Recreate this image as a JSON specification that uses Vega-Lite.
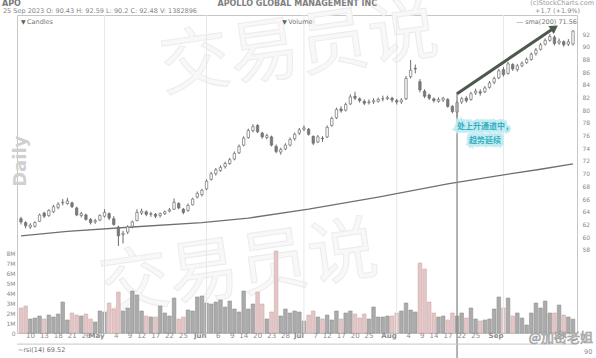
{
"$schema": "https://vega.github.io/schema/vega-lite/v6.json",
"width": 560, "height": 318,
"autosize": {"type": "none"},
"padding": {"left": 17, "top": 15, "right": 19, "bottom": 25},
"background": "white",
"config": {"font": "DejaVu Sans", "view": {"stroke": "#c6c6c6"}, "axis": {"labelOverlap": false, "labelBound": false, "labelFlush": false}},
"datasets": {
"bars": [
{"d":"2023-04-04","o":62.9,"h":63.2,"l":62.0,"c":62.4,"v":2500000},
{"d":"2023-04-05","o":62.3,"h":62.5,"l":61.4,"c":61.8,"v":2700000},
{"d":"2023-04-06","o":61.6,"h":62.2,"l":61.3,"c":61.9,"v":1400000},
{"d":"2023-04-10","o":61.7,"h":62.5,"l":61.5,"c":62.3,"v":1500000},
{"d":"2023-04-11","o":62.5,"h":63.7,"l":62.4,"c":63.5,"v":1700000},
{"d":"2023-04-12","o":63.8,"h":64.0,"l":63.0,"c":63.3,"v":1400000},
{"d":"2023-04-13","o":63.4,"h":64.4,"l":63.2,"c":64.2,"v":1800000},
{"d":"2023-04-14","o":64.0,"h":65.1,"l":63.8,"c":64.8,"v":1600000},
{"d":"2023-04-17","o":64.7,"h":65.5,"l":64.4,"c":65.2,"v":1900000},
{"d":"2023-04-18","o":65.4,"h":66.0,"l":65.0,"c":65.5,"v":3100000},
{"d":"2023-04-19","o":65.3,"h":66.2,"l":65.1,"c":65.7,"v":1300000},
{"d":"2023-04-20","o":65.4,"h":65.6,"l":64.6,"c":64.8,"v":2000000},
{"d":"2023-04-21","o":64.6,"h":64.8,"l":63.3,"c":63.5,"v":1800000},
{"d":"2023-04-24","o":63.4,"h":64.0,"l":63.1,"c":63.7,"v":1700000},
{"d":"2023-04-25","o":63.5,"h":63.7,"l":62.6,"c":62.8,"v":1900000},
{"d":"2023-04-26","o":62.8,"h":63.0,"l":62.0,"c":62.3,"v":1400000},
{"d":"2023-04-27","o":62.4,"h":62.9,"l":62.1,"c":62.6,"v":1100000},
{"d":"2023-04-28","o":62.7,"h":63.6,"l":62.5,"c":63.4,"v":2200000},
{"d":"2023-05-01","o":63.3,"h":64.4,"l":63.1,"c":63.9,"v":2100000},
{"d":"2023-05-02","o":63.7,"h":63.9,"l":62.7,"c":63.0,"v":3000000},
{"d":"2023-05-03","o":62.9,"h":63.3,"l":61.8,"c":62.0,"v":2400000},
{"d":"2023-05-04","o":61.6,"h":61.8,"l":58.6,"c":60.2,"v":4100000},
{"d":"2023-05-05","o":60.4,"h":61.0,"l":59.0,"c":60.6,"v":2200000},
{"d":"2023-05-08","o":60.8,"h":61.9,"l":60.5,"c":61.6,"v":2500000},
{"d":"2023-05-09","o":61.7,"h":62.6,"l":61.4,"c":62.4,"v":4200000},
{"d":"2023-05-10","o":62.6,"h":64.4,"l":62.5,"c":63.9,"v":3800000},
{"d":"2023-05-11","o":63.8,"h":64.5,"l":63.5,"c":64.1,"v":2200000},
{"d":"2023-05-12","o":64.0,"h":64.2,"l":63.3,"c":63.6,"v":1700000},
{"d":"2023-05-15","o":63.6,"h":64.0,"l":63.2,"c":63.7,"v":1600000},
{"d":"2023-05-16","o":63.6,"h":63.8,"l":63.0,"c":63.3,"v":1600000},
{"d":"2023-05-17","o":63.4,"h":63.9,"l":63.1,"c":63.7,"v":2700000},
{"d":"2023-05-18","o":63.7,"h":64.2,"l":63.5,"c":64.0,"v":2000000},
{"d":"2023-05-19","o":64.1,"h":64.6,"l":63.9,"c":64.3,"v":1700000},
{"d":"2023-05-22","o":64.4,"h":66.1,"l":64.3,"c":65.5,"v":3500000},
{"d":"2023-05-23","o":65.3,"h":65.5,"l":64.4,"c":64.6,"v":1400000},
{"d":"2023-05-24","o":64.4,"h":64.6,"l":63.6,"c":63.9,"v":1600000},
{"d":"2023-05-25","o":64.2,"h":65.3,"l":64.0,"c":65.0,"v":2300000},
{"d":"2023-05-26","o":65.1,"h":66.2,"l":65.0,"c":66.0,"v":2200000},
{"d":"2023-05-30","o":66.3,"h":67.2,"l":66.1,"c":66.9,"v":3600000},
{"d":"2023-05-31","o":66.7,"h":67.6,"l":66.4,"c":67.4,"v":3700000},
{"d":"2023-06-01","o":67.6,"h":69.1,"l":67.4,"c":68.8,"v":3000000},
{"d":"2023-06-02","o":69.1,"h":70.3,"l":68.9,"c":70.0,"v":2900000},
{"d":"2023-06-05","o":70.0,"h":70.9,"l":69.7,"c":70.6,"v":3100000},
{"d":"2023-06-06","o":70.5,"h":71.3,"l":70.3,"c":71.0,"v":3300000},
{"d":"2023-06-07","o":71.1,"h":71.9,"l":70.8,"c":71.6,"v":2600000},
{"d":"2023-06-08","o":71.6,"h":72.5,"l":71.4,"c":72.2,"v":3200000},
{"d":"2023-06-09","o":72.3,"h":73.5,"l":72.1,"c":73.2,"v":2400000},
{"d":"2023-06-12","o":73.3,"h":74.6,"l":73.1,"c":74.3,"v":2100000},
{"d":"2023-06-13","o":74.5,"h":75.9,"l":74.3,"c":75.6,"v":4200000},
{"d":"2023-06-14","o":75.7,"h":77.1,"l":75.5,"c":76.8,"v":2400000},
{"d":"2023-06-15","o":76.8,"h":77.8,"l":76.5,"c":77.4,"v":2900000},
{"d":"2023-06-16","o":77.6,"h":77.8,"l":76.4,"c":76.6,"v":4100000},
{"d":"2023-06-20","o":76.4,"h":76.6,"l":75.5,"c":75.8,"v":2900000},
{"d":"2023-06-21","o":75.7,"h":76.3,"l":75.4,"c":76.0,"v":1400000},
{"d":"2023-06-22","o":75.8,"h":76.0,"l":74.3,"c":74.5,"v":2100000},
{"d":"2023-06-23","o":74.3,"h":74.6,"l":73.2,"c":73.5,"v":8200000},
{"d":"2023-06-26","o":73.4,"h":74.1,"l":73.0,"c":73.8,"v":1700000},
{"d":"2023-06-27","o":73.9,"h":74.8,"l":73.7,"c":74.5,"v":2400000},
{"d":"2023-06-28","o":74.5,"h":75.7,"l":74.3,"c":75.4,"v":2000000},
{"d":"2023-06-29","o":75.5,"h":76.5,"l":75.2,"c":76.2,"v":2200000},
{"d":"2023-06-30","o":76.4,"h":77.2,"l":76.1,"c":76.9,"v":2100000},
{"d":"2023-07-03","o":77.0,"h":77.6,"l":76.7,"c":77.2,"v":1200000},
{"d":"2023-07-05","o":77.0,"h":77.2,"l":76.0,"c":76.2,"v":1800000},
{"d":"2023-07-06","o":75.9,"h":76.0,"l":74.5,"c":74.8,"v":2200000},
{"d":"2023-07-07","o":75.0,"h":76.1,"l":74.8,"c":75.8,"v":1600000},
{"d":"2023-07-10","o":75.6,"h":75.9,"l":75.0,"c":75.5,"v":1400000},
{"d":"2023-07-11","o":75.8,"h":77.6,"l":75.6,"c":77.3,"v":1800000},
{"d":"2023-07-12","o":77.6,"h":79.0,"l":77.4,"c":78.7,"v":1300000},
{"d":"2023-07-13","o":78.8,"h":80.4,"l":78.6,"c":80.1,"v":2200000},
{"d":"2023-07-14","o":80.2,"h":80.6,"l":79.6,"c":79.9,"v":1400000},
{"d":"2023-07-17","o":80.0,"h":81.2,"l":79.8,"c":80.9,"v":2000000},
{"d":"2023-07-18","o":81.0,"h":82.5,"l":80.8,"c":82.1,"v":2200000},
{"d":"2023-07-19","o":82.2,"h":82.9,"l":81.6,"c":81.9,"v":1900000},
{"d":"2023-07-20","o":81.8,"h":82.0,"l":81.2,"c":81.5,"v":1500000},
{"d":"2023-07-21","o":81.4,"h":81.7,"l":80.8,"c":81.1,"v":1900000},
{"d":"2023-07-24","o":81.2,"h":81.7,"l":80.9,"c":81.3,"v":1400000},
{"d":"2023-07-25","o":81.3,"h":81.9,"l":81.0,"c":81.5,"v":2600000},
{"d":"2023-07-26","o":81.4,"h":82.0,"l":81.2,"c":81.7,"v":1600000},
{"d":"2023-07-27","o":81.8,"h":82.3,"l":81.4,"c":81.8,"v":1600000},
{"d":"2023-07-28","o":81.8,"h":82.3,"l":81.6,"c":82.0,"v":1700000},
{"d":"2023-07-31","o":81.9,"h":82.1,"l":81.2,"c":81.6,"v":1700000},
{"d":"2023-08-01","o":81.5,"h":81.8,"l":80.9,"c":81.3,"v":2000000},
{"d":"2023-08-02","o":81.3,"h":81.9,"l":81.0,"c":81.6,"v":2200000},
{"d":"2023-08-03","o":81.8,"h":85.4,"l":81.6,"c":85.0,"v":3000000},
{"d":"2023-08-04","o":85.3,"h":87.9,"l":85.0,"c":86.3,"v":2300000},
{"d":"2023-08-07","o":86.6,"h":87.2,"l":85.8,"c":86.5,"v":2100000},
{"d":"2023-08-08","o":84.5,"h":84.9,"l":82.8,"c":83.2,"v":7000000},
{"d":"2023-08-09","o":83.0,"h":83.3,"l":81.9,"c":82.2,"v":6400000},
{"d":"2023-08-10","o":82.4,"h":82.6,"l":81.6,"c":81.9,"v":3100000},
{"d":"2023-08-11","o":81.8,"h":82.0,"l":81.2,"c":81.5,"v":2000000},
{"d":"2023-08-14","o":81.4,"h":82.0,"l":81.2,"c":81.7,"v":1600000},
{"d":"2023-08-15","o":81.6,"h":82.1,"l":81.3,"c":81.9,"v":1700000},
{"d":"2023-08-16","o":81.7,"h":81.9,"l":80.4,"c":80.6,"v":1300000},
{"d":"2023-08-17","o":80.6,"h":80.8,"l":79.5,"c":79.8,"v":2000000},
{"d":"2023-08-18","o":79.7,"h":81.5,"l":78.9,"c":81.2,"v":1700000},
{"d":"2023-08-21","o":81.3,"h":82.1,"l":81.0,"c":81.8,"v":2000000},
{"d":"2023-08-22","o":81.9,"h":82.2,"l":81.2,"c":81.5,"v":1500000},
{"d":"2023-08-23","o":81.7,"h":82.9,"l":81.5,"c":82.6,"v":2500000},
{"d":"2023-08-24","o":82.7,"h":83.4,"l":82.4,"c":83.0,"v":1400000},
{"d":"2023-08-25","o":82.9,"h":83.3,"l":82.3,"c":82.7,"v":1200000},
{"d":"2023-08-28","o":82.9,"h":83.8,"l":82.7,"c":83.5,"v":1300000},
{"d":"2023-08-29","o":83.6,"h":84.6,"l":83.4,"c":84.3,"v":1400000},
{"d":"2023-08-30","o":84.4,"h":85.3,"l":84.1,"c":85.0,"v":2400000},
{"d":"2023-08-31","o":85.1,"h":86.5,"l":84.9,"c":86.2,"v":3600000},
{"d":"2023-09-01","o":86.4,"h":86.8,"l":85.3,"c":85.6,"v":2500000},
{"d":"2023-09-05","o":85.8,"h":87.6,"l":85.6,"c":87.3,"v":3500000},
{"d":"2023-09-06","o":87.2,"h":87.4,"l":86.2,"c":86.5,"v":1700000},
{"d":"2023-09-07","o":86.4,"h":87.3,"l":86.1,"c":87.0,"v":2000000},
{"d":"2023-09-08","o":87.0,"h":87.7,"l":86.8,"c":87.4,"v":1500000},
{"d":"2023-09-11","o":87.5,"h":88.3,"l":87.3,"c":88.0,"v":800000},
{"d":"2023-09-12","o":88.0,"h":89.1,"l":87.8,"c":88.8,"v":2000000},
{"d":"2023-09-13","o":88.9,"h":89.8,"l":88.6,"c":89.5,"v":3000000},
{"d":"2023-09-14","o":89.6,"h":90.6,"l":89.4,"c":90.3,"v":2500000},
{"d":"2023-09-15","o":90.4,"h":91.3,"l":90.2,"c":91.0,"v":3200000},
{"d":"2023-09-18","o":91.0,"h":92.0,"l":90.8,"c":91.6,"v":2000000},
{"d":"2023-09-19","o":91.5,"h":91.8,"l":90.2,"c":90.5,"v":2000000},
{"d":"2023-09-20","o":90.6,"h":91.3,"l":90.3,"c":90.9,"v":2800000},
{"d":"2023-09-21","o":90.8,"h":91.0,"l":90.0,"c":90.3,"v":1800000},
{"d":"2023-09-22","o":90.4,"h":91.2,"l":90.1,"c":90.78,"v":1600000},
{"d":"2023-09-25","o":90.43,"h":92.59,"l":90.2,"c":92.48,"v":1382896}
],
"sma": [
{"d":"2023-04-04","s":60.2},{"d":"2023-04-19","s":60.9},{"d":"2023-05-09","s":61.6},{"d":"2023-05-31","s":62.3},{"d":"2023-06-14","s":63.0},{"d":"2023-07-05","s":64.4},{"d":"2023-07-26","s":66.3},{"d":"2023-08-16","s":68.4},{"d":"2023-08-31","s":69.7},{"d":"2023-09-14","s":70.7},{"d":"2023-09-25","s":71.56}
],
"months": [{"d":"2023-05-01"},{"d":"2023-06-01"},{"d":"2023-07-03"},{"d":"2023-08-01"},{"d":"2023-09-01"}],
"arrow": [{"d":"2023-08-18","p":82.6},{"d":"2023-09-19","p":93.0}]
},
"layer": [
{
"layer": [
{
"data": {"values": [{"d":"2023-06-30","t":"交易员说"},{"d":"2023-06-12","t":"交易员说"}]},
"transform": [{"calculate": "datum.d == '2023-06-30' ? 28300000 : 6300000", "as": "wy"}],
"mark": {"type": "text", "fontSize": 70, "font": "Noto Sans CJK SC", "fill": "#f8f8f8", "stroke": "#ececec", "strokeWidth": 1, "angle": 352, "align": "center", "baseline": "middle"},
"encoding": {
"x": {"field": "d", "type": "ordinal", "title": null},
"y": {"field": "wy", "type": "quantitative", "title": null},
"text": {"field": "t"}
}
},
{
"data": {"name": "bars"},
"transform": [{"window": [{"op": "lag", "field": "c", "as": "pc"}], "sort": [{"field": "d", "order": "ascending"}]}],
"mark": {"type": "bar", "size": 3.6, "strokeWidth": 0.6},
"encoding": {
"x": {"field": "d", "type": "ordinal", "title": null,
"scale": {"type": "band", "paddingInner": 0, "paddingOuter": 0.36},
"axis": {"values": ["2023-04-10","2023-04-13","2023-04-18","2023-04-21","2023-04-26","2023-05-01","2023-05-04","2023-05-09","2023-05-12","2023-05-17","2023-05-22","2023-05-25","2023-06-01","2023-06-06","2023-06-09","2023-06-14","2023-06-20","2023-06-23","2023-06-28","2023-07-03","2023-07-07","2023-07-12","2023-07-17","2023-07-20","2023-07-25","2023-08-01","2023-08-04","2023-08-09","2023-08-14","2023-08-17","2023-08-22","2023-08-25","2023-09-01"],
"labelExpr": "datum.value == '2023-05-01' ? 'May' : datum.value == '2023-06-01' ? 'Jun' : datum.value == '2023-07-03' ? 'Jul' : datum.value == '2023-08-01' ? 'Aug' : datum.value == '2023-09-01' ? 'Sep' : '' + toNumber(substring(datum.value, 8, 10))",
"labelFontWeight": {"condition": {"test": "indexof(['2023-05-01','2023-06-01','2023-07-03','2023-08-01','2023-09-01'], datum.value) >= 0", "value": "bold"}, "value": "normal"},
"labelAngle": 0, "labelFontSize": 7, "labelColor": "#8a8a8a", "labelPadding": 2, "ticks": false, "domain": false, "grid": false, "labelOverlap": false, "title": null}},
"y": {"field": "v", "type": "quantitative", "title": null,
"scale": {"domain": [0, 31800000], "nice": false, "zero": true},
"axis": {"orient": "left", "values": [0,1000000,2000000,3000000,4000000,5000000,6000000,7000000,8000000], "tickCount": 100,
"labelExpr": "datum.value == 0 ? '0' : (datum.value/1000000) + 'M'",
"labelFontSize": 6, "labelColor": "#8a8a8a", "labelPadding": 2, "labelOverlap": false, "ticks": false, "domain": false, "grid": false, "title": null}},
"fill": {"condition": {"test": "datum.pc == null || datum.c < datum.pc", "value": "#e4c6c6"}, "value": "#ababab"},
"stroke": {"condition": {"test": "datum.pc == null || datum.c < datum.pc", "value": "#cfa9a9"}, "value": "#929292"}
}
}
]
},
{
"layer": [
{
"data": {"name": "months"},
"mark": {"type": "rule", "stroke": "#e8e8e8", "strokeWidth": 1},
"encoding": {"x": {"field": "d", "type": "ordinal", "title": null}}
},
{
"data": {"values": [{"d": "2023-04-04"}]},
"mark": {"type": "text", "fontSize": 18, "fontWeight": "bold", "align": "center", "baseline": "middle", "angle": 270, "dx": -13, "fill": "#d0d0d0"},
"encoding": {"x": {"field": "d", "type": "ordinal", "title": null}, "y": {"datum": 74.0}, "text": {"value": "Daily"}}
},
{
"data": {"name": "sma"},
"mark": {"type": "line", "stroke": "#707070", "strokeWidth": 1.3},
"encoding": {
"x": {"field": "d", "type": "ordinal", "title": null},
"y": {"field": "s", "type": "quantitative", "title": null}
}
},
{
"data": {"name": "bars"},
"mark": {"type": "rule", "stroke": "#6e6e6e", "strokeWidth": 1},
"encoding": {
"x": {"field": "d", "type": "ordinal", "title": null},
"y": {"field": "l", "type": "quantitative", "title": null,
"scale": {"domain": [44.9, 95], "nice": false, "zero": false},
"axis": {"orient": "right", "values": [58,60,62,64,66,68,70,72,74,76,78,80,82,84,86,88,90,92], "tickCount": 100, "format": "d", "labelFontSize": 6, "labelColor": "#8a8a8a", "labelPadding": 5, "labelOverlap": false, "ticks": false, "domain": false, "grid": false, "title": null}},
"y2": {"field": "h"}
}
},
{
"data": {"name": "bars"},
"mark": {"type": "bar", "size": 2.4, "strokeWidth": 0.7, "stroke": "#6e6e6e"},
"encoding": {
"x": {"field": "d", "type": "ordinal", "title": null},
"y": {"field": "o", "type": "quantitative", "title": null},
"y2": {"field": "c"},
"fill": {"condition": {"test": "datum.c >= datum.o", "value": "#ffffff"}, "value": "#7a7a7a"}
}
},
{
"data": {"values": [{"d": "2023-08-18"}]},
"mark": {"type": "rule", "stroke": "#8a8a8a", "strokeWidth": 1.3},
"encoding": {
"x": {"field": "d", "type": "ordinal", "title": null},
"y": {"datum": 82.8},
"y2": {"datum": 40.5}
}
},
{
"data": {"name": "arrow"},
"mark": {"type": "line", "stroke": "#4e594e", "strokeWidth": 3},
"encoding": {
"x": {"field": "d", "type": "ordinal", "title": null},
"y": {"field": "p", "type": "quantitative", "title": null}
}
},
{
"data": {"name": "arrow"},
"transform": [{"filter": "datum.d == '2023-09-19'"}],
"mark": {"type": "point", "shape": "triangle-up", "size": 90, "angle": 56, "filled": true, "fill": "#4e594e", "opacity": 1},
"encoding": {
"x": {"field": "d", "type": "ordinal", "title": null},
"y": {"field": "p", "type": "quantitative", "title": null}
}
},
{
"data": {"values": [{"d": "2023-08-18"}]},
"mark": {"type": "text", "font": "Noto Sans CJK SC", "fontSize": 8, "fontWeight": "bold", "align": "center", "baseline": "top", "dx": 28, "lineHeight": 14, "fill": "#c2ecf3", "stroke": "#c2ecf3", "strokeWidth": 5},
"encoding": {
"x": {"field": "d", "type": "ordinal", "title": null},
"y": {"datum": 78.0},
"text": {"value": ["处上升通道中，", "趋势延续"]}
}
},
{
"data": {"values": [{"d": "2023-08-18"}]},
"mark": {"type": "text", "font": "Noto Sans CJK SC", "fontSize": 8, "fontWeight": "bold", "align": "center", "baseline": "top", "dx": 28, "lineHeight": 14, "fill": "#36afc0"},
"encoding": {
"x": {"field": "d", "type": "ordinal", "title": null},
"y": {"datum": 78.0},
"text": {"value": ["处上升通道中，", "趋势延续"]}
}
},
{
"data": {"values": [{"d": "2023-04-04"}]},
"mark": {"type": "text", "fontSize": 8, "fontWeight": "bold", "align": "left", "baseline": "middle", "dx": -19, "dy": -11.5, "fill": "#777"},
"encoding": {"x": {"field": "d", "type": "ordinal", "title": null}, "y": {"datum": 95}, "text": {"value": "APO"}}
},
{
"data": {"values": [{"d": "2023-04-04"}]},
"mark": {"type": "text", "fontSize": 6.5, "align": "left", "baseline": "middle", "dx": -18, "dy": -4, "fill": "#858585"},
"encoding": {"x": {"field": "d", "type": "ordinal", "title": null}, "y": {"datum": 95}, "text": {"value": "25 Sep 2023   O: 90.43   H: 92.59   L: 90.2   C: 92.48    V: 1382896"}}
},
{
"data": {"values": [{"d": "2023-06-30"}]},
"mark": {"type": "text", "fontSize": 8, "fontWeight": "bold", "align": "center", "baseline": "middle", "dx": -2, "dy": -11, "fill": "#808080"},
"encoding": {"x": {"field": "d", "type": "ordinal", "title": null}, "y": {"datum": 95}, "text": {"value": "APOLLO GLOBAL MANAGEMENT INC"}}
},
{
"data": {"values": [{"d": "2023-09-25"}]},
"mark": {"type": "text", "fontSize": 6.5, "align": "right", "baseline": "middle", "dx": 21, "dy": -12, "fill": "#9a9a9a"},
"encoding": {"x": {"field": "d", "type": "ordinal", "title": null}, "y": {"datum": 95}, "text": {"value": "(c)StockCharts.com"}}
},
{
"data": {"values": [{"d": "2023-09-25"}]},
"mark": {"type": "text", "fontSize": 6.5, "align": "right", "baseline": "middle", "dx": 7, "dy": -4, "fill": "#858585"},
"encoding": {"x": {"field": "d", "type": "ordinal", "title": null}, "y": {"datum": 95}, "text": {"value": "+1.7 (+1.9%)"}}
},
{
"data": {"values": [{"d": "2023-09-25"}]},
"mark": {"type": "text", "fontSize": 6.5, "align": "right", "baseline": "middle", "dx": 4, "dy": 6.5, "fill": "#777"},
"encoding": {"x": {"field": "d", "type": "ordinal", "title": null}, "y": {"datum": 95}, "text": {"value": "— sma(200) 71.56"}}
},
{
"data": {"values": [{"d": "2023-04-04"}]},
"mark": {"type": "text", "fontSize": 6, "align": "left", "baseline": "middle", "dx": 0, "dy": 6.5, "fill": "#4f6b4f"},
"encoding": {"x": {"field": "d", "type": "ordinal", "title": null}, "y": {"datum": 95}, "text": {"value": "▼"}}
},
{
"data": {"values": [{"d": "2023-04-04"}]},
"mark": {"type": "text", "fontSize": 6.5, "align": "left", "baseline": "middle", "dx": 6, "dy": 6.5, "fill": "#777"},
"encoding": {"x": {"field": "d", "type": "ordinal", "title": null}, "y": {"datum": 95}, "text": {"value": "Candles"}}
},
{
"data": {"values": [{"d": "2023-06-30"}]},
"mark": {"type": "text", "fontSize": 6, "align": "left", "baseline": "middle", "dx": -17, "dy": 6.5, "fill": "#4f6b4f"},
"encoding": {"x": {"field": "d", "type": "ordinal", "title": null}, "y": {"datum": 95}, "text": {"value": "▼"}}
},
{
"data": {"values": [{"d": "2023-06-30"}]},
"mark": {"type": "text", "fontSize": 6.5, "align": "left", "baseline": "middle", "dx": -11, "dy": 6.5, "fill": "#777"},
"encoding": {"x": {"field": "d", "type": "ordinal", "title": null}, "y": {"datum": 95}, "text": {"value": "Volume"}}
},
{
"data": {"values": [{}]},
"mark": {"type": "rule", "stroke": "#c6c6c6", "strokeWidth": 1},
"encoding": {"y": {"datum": 43.15}}
},
{
"data": {"values": [{"d": "2023-04-04"}]},
"mark": {"type": "text", "fontSize": 6.5, "align": "left", "baseline": "middle", "dx": -3, "dy": 0, "fill": "#707070"},
"encoding": {"x": {"field": "d", "type": "ordinal", "title": null}, "y": {"datum": 42.3}, "text": {"value": "~rsi(14) 69.52"}}
},
{
"data": {"values": [{"d": "2023-09-25"}]},
"mark": {"type": "text", "fontSize": 6.5, "align": "left", "baseline": "middle", "dx": 11, "dy": 0, "fill": "#8a8a8a"},
"encoding": {"x": {"field": "d", "type": "ordinal", "title": null}, "y": {"datum": 41.9}, "text": {"value": "90"}}
},
{
"data": {"values": [{"d": "2023-09-25"}]},
"mark": {"type": "text", "font": "Noto Sans CJK SC", "fontSize": 13, "align": "right", "baseline": "middle", "dx": 20, "dy": 5, "fill": "#ffffff", "stroke": "#9a9a9a", "strokeWidth": 0.7},
"encoding": {"x": {"field": "d", "type": "ordinal", "title": null}, "y": {"datum": 44.9}, "text": {"value": "@加密老姐"}}
}
]
}
],
"resolve": {"scale": {"y": "independent"}}
}
